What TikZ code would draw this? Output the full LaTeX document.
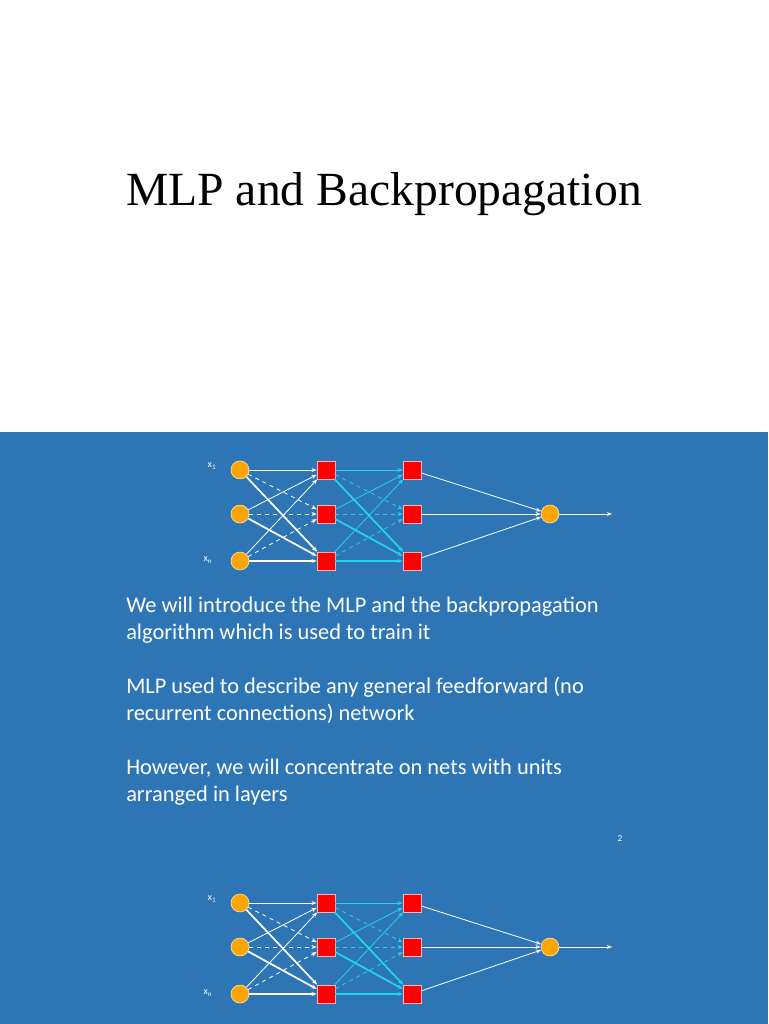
\documentclass[tikz,border=0pt]{standalone}
\usepackage{fontspec}
\setmainfont{Liberation Serif}
\newfontfamily\calfont{Carlito}
\usetikzlibrary{arrows.meta}
\definecolor{bg}{HTML}{2E75B6}
\definecolor{org}{HTML}{FFA500}
\definecolor{cy}{HTML}{1FD5F0}
\begin{document}
\begin{tikzpicture}[x=0.75pt,y=-0.75pt,
  inp/.style={circle,fill=org,draw=white!80!org,line width=0.4pt,minimum size=13.5pt,inner sep=0},
  hid/.style={rectangle,fill=red,draw=white!70!red,line width=0.4pt,minimum size=13.5pt,inner sep=0},
  ed/.style={white,line width=0.6pt,-{Stealth[length=4pt]}},
  edt/.style={white,line width=1.3pt,-{Stealth[length=4pt]}},
  ec/.style={cy,line width=0.6pt,-{Stealth[length=4pt]}},
  ect/.style={cy,line width=1.3pt,-{Stealth[length=4pt]}},
  lbl/.style={font=\calfont\fontsize{7.5}{9}\selectfont,white}]
\useasboundingbox (0,0) rectangle (768,1024);
\fill[white] (0,0) rectangle (768,432);
\fill[bg] (0,432) rectangle (768,1024);
\node (title) at (384,194) {\fontsize{35.7}{42}\selectfont MLP and Backpropagation};
\foreach \yo/\p in {0/a,433/b}{
  \node[inp] (\p i1) at (240,470+\yo) {};
  \node[inp] (\p i2) at (240,514+\yo) {};
  \node[inp] (\p i3) at (240,561+\yo) {};
  \node[hid] (\p h1) at (326,470+\yo) {};
  \node[hid] (\p h2) at (326,514+\yo) {};
  \node[hid] (\p h3) at (326,561+\yo) {};
  \node[hid] (\p g1) at (412,470+\yo) {};
  \node[hid] (\p g2) at (412,514+\yo) {};
  \node[hid] (\p g3) at (412,561+\yo) {};
  \node[inp] (\p o) at (550,514+\yo) {};
  \coordinate (\p e) at (612,514+\yo);
  \node[lbl] (\p l1) at (212,466+\yo) {x\textsubscript{1}};
  \node[lbl] (\p l2) at (208,560+\yo) {x\textsubscript{n}};
  \foreach \s in {1,2,3}{
    \draw[ed] (\p i\s) -- (\p h1);
    \draw[ed,dashed] (\p i\s) -- (\p h2);
    \draw[edt] (\p i\s) -- (\p h3);
    \draw[ec] (\p h\s) -- (\p g1);
    \draw[ec,dashed] (\p h\s) -- (\p g2);
    \draw[ect] (\p h\s) -- (\p g3);
    \draw[ed] (\p g\s) -- (\p o);
  }
  \draw[ed] (\p o) -- (\p e);
}
\node[font=\calfont\fontsize{16.8}{20.25}\selectfont,white,align=left,anchor=north west,inner sep=0] (txt) at (126,597)
{We will introduce the MLP and the backpropagation\\algorithm which is used to train it\\[20.25pt]MLP used to describe any general feedforward (no\\recurrent connections) network\\[20.25pt]However, we will concentrate on nets with units\\arranged in layers};
\node[font=\calfont\fontsize{7}{8}\selectfont,white] (num) at (620,838) {2};
\end{tikzpicture}
\end{document}
